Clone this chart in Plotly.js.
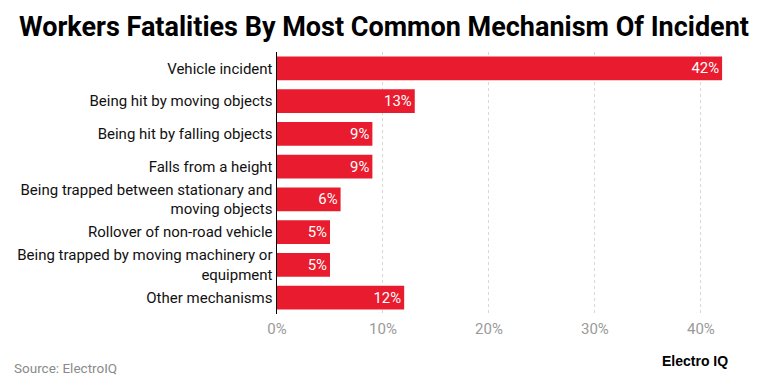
<!DOCTYPE html>
<html><head><meta charset="utf-8">
<script src="https://cdn.plot.ly/plotly-3.0.1.min.js"></script>
<style>html,body{margin:0;padding:0;background:#fff}#chart{width:768px;height:385px}</style>
</head><body><div id="chart"></div>
<script>
const categories = [
  "Vehicle incident",
  "Being hit by moving objects",
  "Being hit by falling objects",
  "Falls from a height",
  "Being trapped between stationary and<br>moving objects",
  "Rollover of non-road vehicle",
  "Being trapped by moving machinery or<br>equipment",
  "Other mechanisms"
];
const values = [42, 13, 9, 9, 6, 5, 5, 12];
const tickVals = [0, 10, 20, 30, 40];
const tickText = ["0%", "10%", "20%", "30%", "40%"];

const trace = {
  type: 'bar', orientation: 'h',
  y: categories, x: values,
  marker: {color: '#E81C2E'},
  text: values.map(v => v + '%'),
  textposition: 'inside', insidetextanchor: 'end',
  textfont: {color: '#ffffff', size: 15, family: 'Roboto'},
  width: 0.73,
  hoverinfo: 'none', cliponaxis: false
};
const layout = {
  width: 768, height: 385,
  margin: {l: 277, r: 30, t: 52, b: 71},
  paper_bgcolor: '#fff', plot_bgcolor: '#fff',
  font: {family: 'Roboto', color: '#111'},
  title: {text: '<b>Workers Fatalities By Most Common Mechanism Of Incident</b>',
    font: {family: 'Roboto', size: 27, color: '#000'}, x: 0.5, xanchor: 'center', y: 0.93, yanchor: 'middle'},
  xaxis: {range: [0, 43.5], tickvals: tickVals, ticktext: tickText,
    tickfont: {size: 15, color: '#9a9a9a'}, showgrid: true, gridcolor: '#d8d8d8', griddash: 'dot',
    zeroline: false, showline: false, ticks: '', ticklabelstandoff: 4, fixedrange: true},
  yaxis: {autorange: 'reversed', tickfont: {size: 15, color: '#111'}, showline: true,
    linecolor: '#000', linewidth: 1.5, ticks: '', ticklen: 0, showgrid: false, zeroline: false},
  showlegend: false,
  annotations: [
    {text: 'Source: ElectroIQ', xref: 'paper', yref: 'paper', x: -277/461, xshift: 12, y: 0, yshift: -44,
     xanchor: 'left', yanchor: 'top', showarrow: false, font: {size: 13.5, color: '#8a8a8a'}},
    {text: '<b>Electro IQ</b>', xref: 'paper', yref: 'paper', x: 1, xshift: -8, y: 0, yshift: -37,
     xanchor: 'right', yanchor: 'top', showarrow: false, font: {size: 14, color: '#000', family: 'Arial'}}
  ]
};
Plotly.newPlot('chart', [trace], layout, {displayModeBar: false, staticPlot: true});
</script></body></html>
